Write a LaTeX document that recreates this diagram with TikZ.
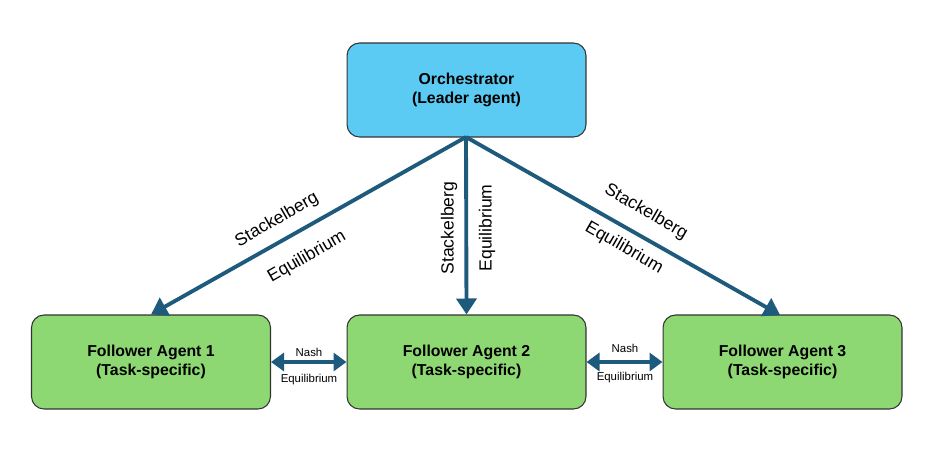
\documentclass[tikz,border=0pt]{standalone}
\usepackage{fontspec}
\setmainfont{Liberation Sans}
\usetikzlibrary{arrows.meta}
\definecolor{leader}{HTML}{5CCBF3}
\definecolor{follower}{HTML}{8ED873}
\definecolor{edge}{HTML}{1E5A7C}
\tikzset{
  agent/.style={draw=black!80,rounded corners=0.25cm,minimum width=4.78cm,minimum height=1.88cm,align=center,font=\bfseries\fontsize{9}{11}\selectfont,line width=0.6pt},
  link/.style={draw=edge,line width=2.2pt,-{Triangle[length=3.2mm,width=4mm]}},
  nash/.style={draw=edge,line width=2.2pt,{Triangle[length=2.6mm,width=3.6mm]}-{Triangle[length=2.6mm,width=3.6mm]}},
  tag/.style={font=\fontsize{10}{12}\selectfont},
  small tag/.style={font=\fontsize{6.5}{8}\selectfont}
}
\begin{document}
\begin{tikzpicture}[x=0.02cm,y=-0.02cm]
	\useasboundingbox (0,0) rectangle (932,454);
	\node [agent,fill=leader](orch) at (466.5,90){Orchestrator\\(Leader agent)};
	\node [agent,fill=follower](f1) at (151,362){Follower Agent 1\\(Task-specific)};
	\node [agent,fill=follower](f2) at (466.5,362){Follower Agent 2\\(Task-specific)};
	\node [agent,fill=follower](f3) at (782.5,362){Follower Agent 3\\(Task-specific)};
	\coordinate (top) at (466,137);
	
	\draw[link](top)--(f1.north);
	\draw[link](top)--(f2.north);
	\draw[link](top)--(780,315);
	\draw[nash](f1.east)--(f2.west);
	\draw[nash](f2.east)--(f3.west);
	
	\node [tag,rotate=30](s1) at (277,220){Stackelberg};
	\node [tag,rotate=30](e1) at (307,257){Equilibrium};
	\node [tag,rotate=90](s2) at (449,228){Stackelberg};
	\node [tag,rotate=90](e2) at (487,228){Equilibrium};
	\node [tag,rotate=-30](s3) at (646,212){Stackelberg};
	\node [tag,rotate=-30](e3) at (624,248){Equilibrium};
	\node [small tag](n1) at (309,352){Nash};
	\node [small tag](q1) at (309,380){Equilibrium};
	\node [small tag](n2) at (625,348){Nash};
	\node [small tag](q2) at (625,378){Equilibrium};
\end{tikzpicture}
\end{document}
